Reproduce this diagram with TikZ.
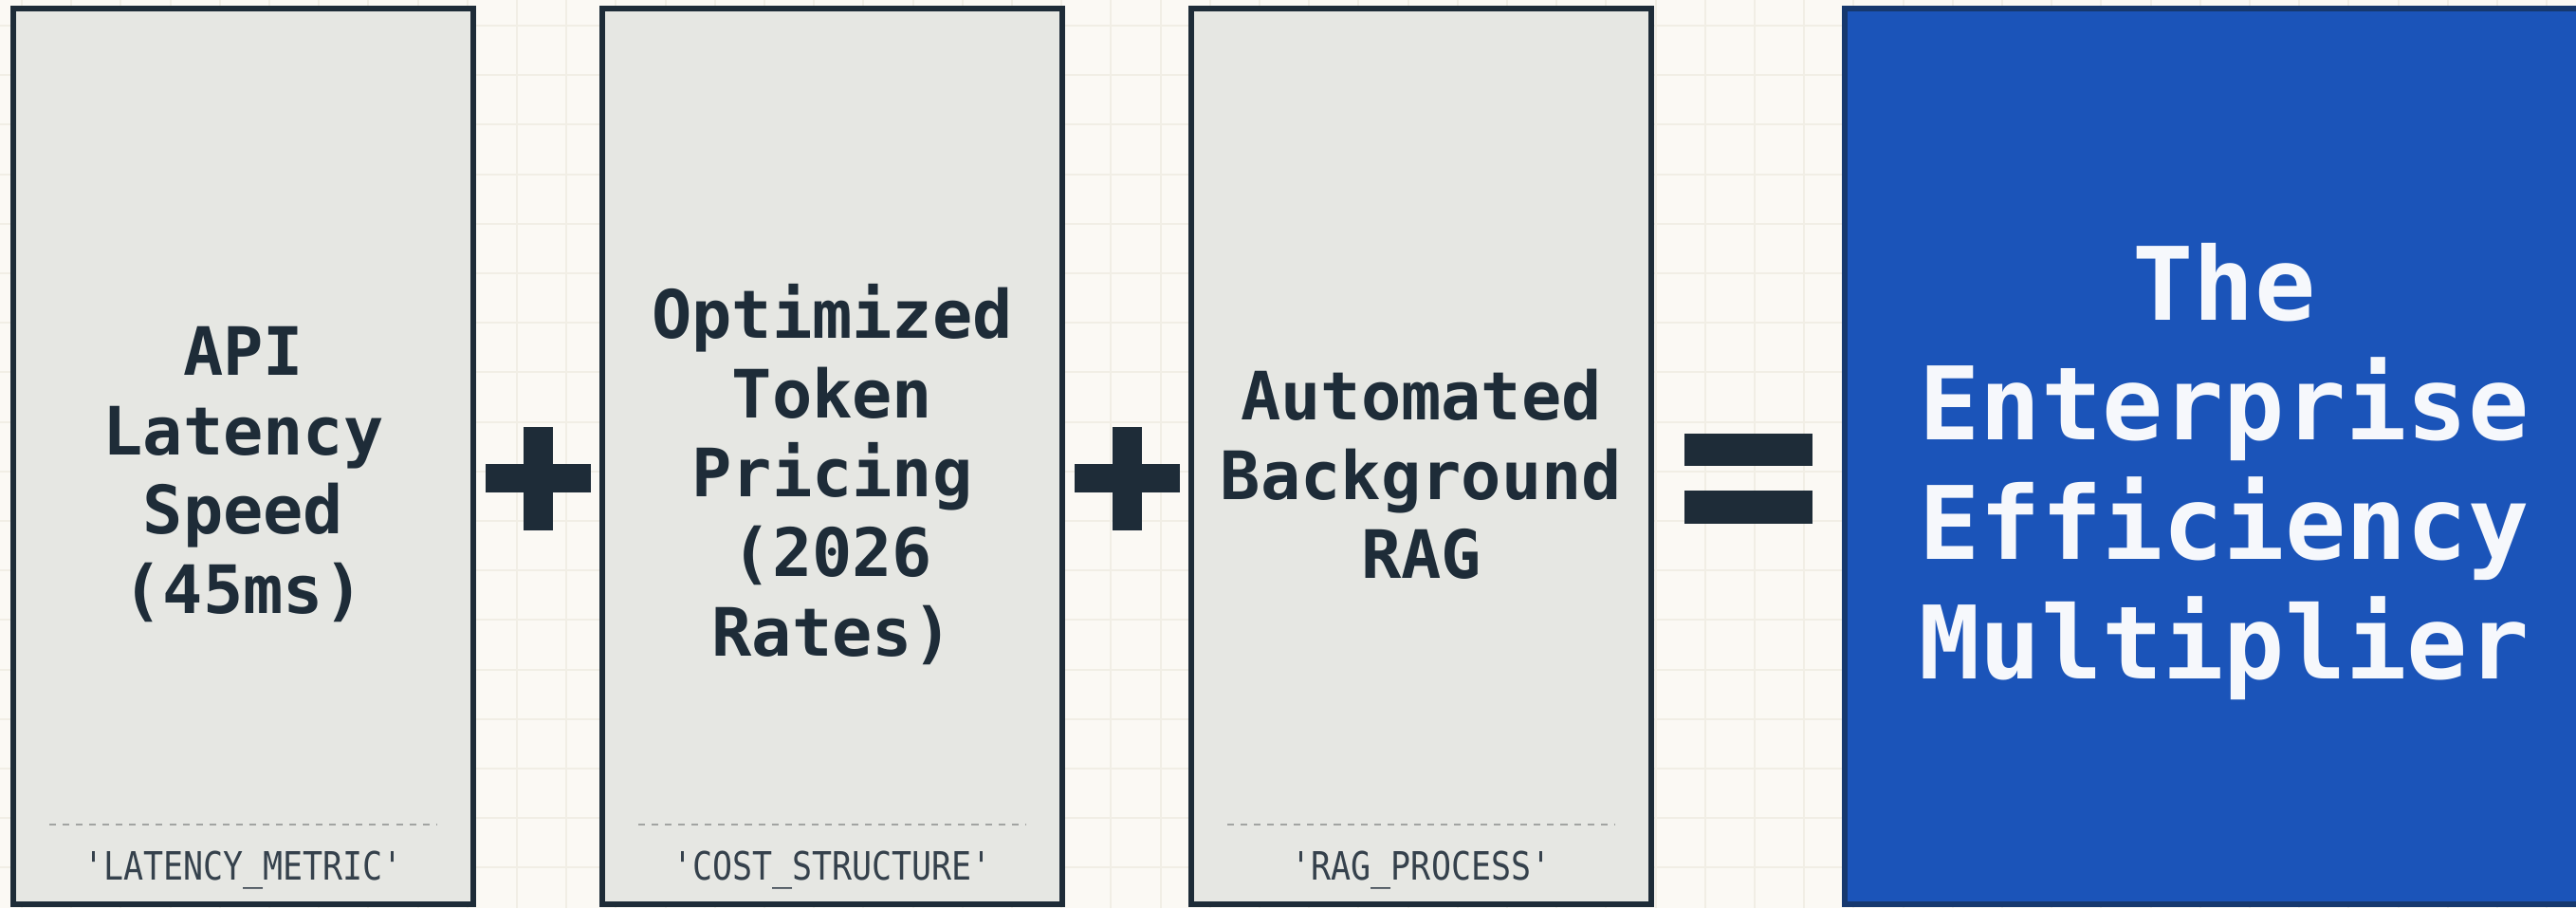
\documentclass[tikz,border=0pt]{standalone}
\usepackage{fontspec}
\setmonofont{DejaVu Sans Mono}
\newfontfamily\tagfont[FakeStretch=0.85,Ligatures=TeXOff]{DejaVu Sans Mono}
\usetikzlibrary{positioning}

\definecolor{paper}{HTML}{FBF9F4}
\definecolor{gridline}{HTML}{F1EEE5}
\definecolor{cardfill}{HTML}{E6E7E3}
\definecolor{ink}{HTML}{1E2C38}
\definecolor{bigblue}{HTML}{1B54B9}
\definecolor{blueedge}{HTML}{16386E}
\definecolor{dashgray}{HTML}{A2A4A2}

\tikzset{
  card/.style={draw=ink, line width=1.6pt, fill=cardfill, inner sep=0pt,
    minimum width=4.85cm, minimum height=9.44cm},
  cardtext/.style={text=ink, align=center,
    font=\ttfamily\bfseries\fontsize{20}{23.8}\selectfont},
  bigtext/.style={text=white!96!bigblue, align=center,
    font=\ttfamily\bfseries\fontsize{30.4}{35.9}\selectfont},
  tag/.style={text=ink!90, anchor=base, font=\tagfont\fontsize{11.7}{14}\selectfont},
  tagrule/.style={dashgray, line width=0.6pt, dash pattern=on 2pt off 2pt}
}

\begin{document}
\begin{tikzpicture}
\useasboundingbox (0,0) rectangle (27.16,9.57);
\fill[paper] (0,0) rectangle (27.16,9.57);

% background grid
\foreach \i in {0,...,51}
  \draw[gridline, line width=0.6pt] ({0.23+0.522*\i},0) -- ++(0,9.57);
\foreach \j in {0,...,17}
  \draw[gridline, line width=0.6pt] (0,{9.30-0.522*\j}) -- ++(27.16,0);

% the three inputs
\node[card] (lat) at (2.565,4.76) {};
\node[card] (cost) at (8.775,4.76) {};
\node[card] (rag) at (14.985,4.76) {};

\node[cardtext] (latText) at (2.565,4.57) {API\\Latency\\Speed\\(45ms)};
\node[cardtext] (costText) at (8.775,4.57) {Optimized\\Token\\Pricing\\(2026\\Rates)};
\node[cardtext] (ragText) at (14.985,4.57) {Automated\\Background\\RAG};

\draw[tagrule] (0.52,0.88) -- (4.61,0.88);
\draw[tagrule] (6.73,0.88) -- (10.82,0.88);
\draw[tagrule] (12.94,0.88) -- (17.03,0.88);

\node[tag] (latTag) at (2.565,0.30) {'LATENCY\_METRIC'};
\node[tag] (costTag) at (8.775,0.30) {'COST\_STRUCTURE'};
\node[tag] (ragTag) at (14.985,0.30) {'RAG\_PROCESS'};

% result
\node[card, draw=blueedge, fill=bigblue, minimum width=7.95cm] (mult) at (23.425,4.76) {};
\node[bigtext] (multText) at (23.45,4.60) {The\\Enterprise\\Efficiency\\Multiplier};

% plus and equals signs
\foreach \cx in {5.675,11.88} {
  \fill[ink] ({\cx-0.555},4.38) rectangle ({\cx+0.555},4.68);
  \fill[ink] ({\cx-0.155},3.98) rectangle ({\cx+0.155},5.07);
}
\fill[ink] (17.76,4.66) rectangle (19.11,5.00);
\fill[ink] (17.76,4.05) rectangle (19.11,4.40);
\end{tikzpicture}
\end{document}
